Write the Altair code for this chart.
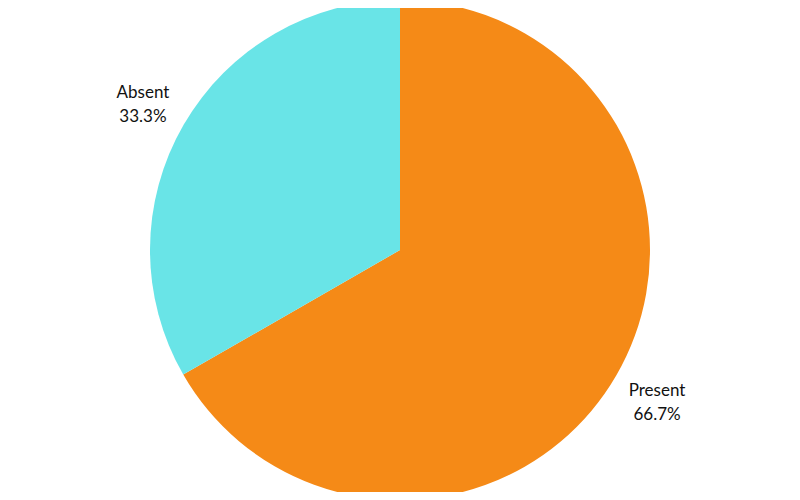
import altair as alt
import pandas as pd

categories = ["Present", "Absent"]
shares = [66.7, 33.3]
colors = ["#F58A17", "#69E4E7"]

df = pd.DataFrame({
    "category": categories,
    "share": shares,
    "order": [0, 1],
})
df["label"] = df["category"] + "\n" + df["share"].map(lambda v: f"{v:.1f}%")

base = alt.Chart(df).encode(
    theta=alt.Theta("share:Q", stack=True),
    order=alt.Order("order:Q"),
)

pie = base.mark_arc(outerRadius=250, stroke=None).encode(
    color=alt.Color("category:N",
                    scale=alt.Scale(domain=categories, range=colors),
                    legend=None)
)

labels = base.mark_text(
    radius=297, dy=-8, font="Lato", fontSize=17, color="#111111",
    lineBreak="\n", lineHeight=24, align="center", baseline="middle",
).encode(text="label:N")

chart = (pie + labels).properties(
    width=784, height=484, padding=0,
    autosize=alt.AutoSizeParams(type="none"),
).configure_view(stroke=None)

chart.save("out.html", embed_options={"renderer": "svg", "actions": False})
